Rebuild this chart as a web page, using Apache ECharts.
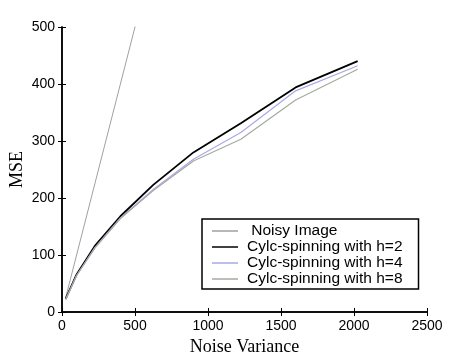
<!DOCTYPE html>
<html>
<head>
<meta charset="utf-8">
<script src="https://cdn.jsdelivr.net/npm/echarts@6/dist/echarts.min.js"></script>
<style>
  html, body { margin: 0; padding: 0; background: #fff; }
  #chart { width: 474px; height: 353px; }
</style>
</head>
<body>
<div id="chart"></div>
<script>
// noise variance values (sigma^2)
var variance = [25, 100, 225, 400, 625, 900, 1225, 1600, 2025];
// MSE per method
var noisyImage = [25, 100, 225, 400, 625, 900, 1225, 1600, 2025];
var cycH2 = [23, 66, 116, 168, 223, 280, 331, 394, 440];
var cycH4 = [22, 64, 113, 165, 215, 268, 315, 388, 432];
var cycH8 = [22, 64, 112, 164, 213, 265, 303, 372, 426];
var xTicks = [0, 500, 1000, 1500, 2000, 2500];
var yTicks = [0, 100, 200, 300, 400, 500];

function pairs(ys) {
  var out = [];
  for (var i = 0; i < variance.length; i++) {
    out.push([variance[i], ys[i]]);
  }
  return out;
}

var chart = echarts.init(document.getElementById('chart'));

var tickFont = { color: '#000', fontSize: 14, fontFamily: 'Liberation Sans' };

chart.setOption({
  animation: false,
  grid: { left: 62, right: 47, top: 27, bottom: 41, outerBoundsMode: 'none' },
  legend: {
    orient: 'vertical',
    left: 202,
    top: 219,
    padding: [4, 16, 2, 10],
    itemGap: 0,
    itemWidth: 26,
    itemHeight: 1.5,
    icon: 'rect',
    borderColor: '#000',
    borderWidth: 1.5,
    textStyle: { color: '#000', fontSize: 15.5, lineHeight: 16, padding: [0, 0, 0, 4], fontFamily: 'Liberation Sans' },
    // the first entry is indented a little in the original
    formatter: function (name) { return name === 'Noisy Image' ? ' ' + name : name; },
    data: ['Noisy Image', 'Cylc-spinning with h=2', 'Cylc-spinning with h=4', 'Cylc-spinning with h=8']
  },
  xAxis: [
    {
      type: 'value', min: 0, max: 2500, interval: 500,
      name: 'Noise Variance', nameLocation: 'middle', nameGap: 23,
      nameTextStyle: { color: '#000', fontSize: 18, fontFamily: 'Liberation Serif' },
      axisLine: { lineStyle: { color: '#000', width: 1.5 } },
      axisTick: { inside: true, length: 4, lineStyle: { color: '#000' } },
      axisLabel: Object.assign({ margin: 7, formatter: function (v) { return String(v); } }, tickFont),
      splitLine: { show: false }
    },
    {
      type: 'value', min: 0, max: 2500, interval: 500, position: 'top',
      axisLine: { show: true, lineStyle: { color: '#000', width: 1.5 } },
      axisTick: { show: true, inside: true, length: 4, lineStyle: { color: '#000' } },
      axisLabel: { show: false },
      splitLine: { show: false }
    }
  ],
  yAxis: [
    {
      type: 'value', min: 0, max: 500, interval: 100,
      name: 'MSE', nameLocation: 'middle', nameGap: 36, nameMoveOverlap: false,
      nameTextStyle: { color: '#000', fontSize: 18, fontFamily: 'Liberation Serif' },
      axisLine: { show: true, lineStyle: { color: '#000', width: 1.5 } },
      axisTick: { show: true, inside: true, length: 4, lineStyle: { color: '#000' } },
      axisLabel: Object.assign({ margin: 7 }, tickFont),
      splitLine: { show: false }
    },
    {
      type: 'value', min: 0, max: 500, interval: 100, position: 'right',
      axisLine: { show: true, lineStyle: { color: '#000', width: 1.5 } },
      axisTick: { show: true, inside: true, length: 4, lineStyle: { color: '#000' } },
      axisLabel: { show: false },
      splitLine: { show: false }
    }
  ],
  series: [
    {
      name: 'Noisy Image', type: 'line', symbol: 'none', clip: true,
      lineStyle: { color: '#a0a0a0', width: 1 }, itemStyle: { color: '#a0a0a0' },
      data: pairs(noisyImage)
    },
    {
      name: 'Cylc-spinning with h=2', type: 'line', symbol: 'none',
      lineStyle: { color: '#000', width: 1.8 }, itemStyle: { color: '#000' },
      data: pairs(cycH2)
    },
    {
      name: 'Cylc-spinning with h=4', type: 'line', symbol: 'none',
      lineStyle: { color: '#a8a8e8', width: 1.2 }, itemStyle: { color: '#a8a8e8' },
      data: pairs(cycH4)
    },
    {
      name: 'Cylc-spinning with h=8', type: 'line', symbol: 'none',
      lineStyle: { color: '#a8a8a0', width: 1.2 }, itemStyle: { color: '#a8a8a0' },
      data: pairs(cycH8)
    }
  ]
});
</script>
</body>
</html>
